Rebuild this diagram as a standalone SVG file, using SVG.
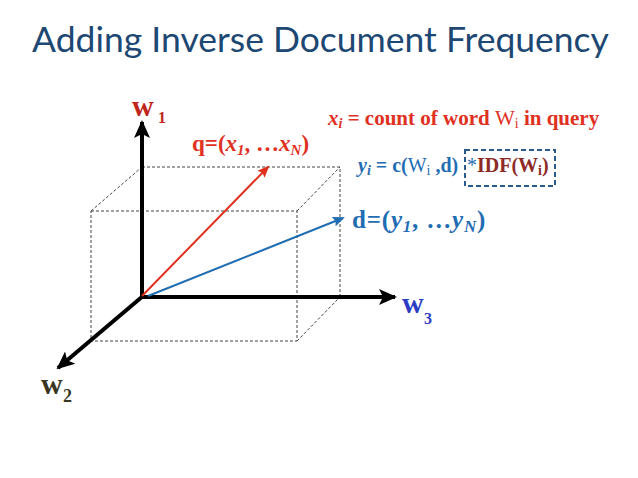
<svg xmlns="http://www.w3.org/2000/svg" width="638" height="478" viewBox="0 0 638 478">
<style>
.title{font-family:Lato,"Open Sans",sans-serif;font-size:35.5px;fill:#1d4873}
.t{font-family:"Liberation Serif","Times New Roman",serif;font-weight:bold}
.n{font-weight:normal}
.i{font-style:italic}
.box{fill:none;stroke:#444;stroke-width:1;stroke-dasharray:3,2}
.axis{stroke:#000;stroke-width:4;fill:none}
</style>
<defs>
<marker id="ak" markerUnits="userSpaceOnUse" markerWidth="20" markerHeight="20" refX="16" refY="8" orient="auto" viewBox="0 0 20 16">
<path d="M0,0 L18,8 L0,16 L4,8 Z" fill="#000"/>
</marker>
<marker id="ar" markerUnits="userSpaceOnUse" markerWidth="12" markerHeight="10" refX="10" refY="5" orient="auto" viewBox="0 0 12 10">
<path d="M0,0 L12,5 L0,10 L2,5 Z" fill="#e0311f"/>
</marker>
<marker id="ab" markerUnits="userSpaceOnUse" markerWidth="12" markerHeight="10" refX="10" refY="5" orient="auto" viewBox="0 0 12 10">
<path d="M0,0 L12,5 L0,10 L2,5 Z" fill="#1f6db3"/>
</marker>
</defs>
<rect width="638" height="478" fill="#fff"/>
<text class="title" x="32" y="52">Adding Inverse Document Frequency</text>
<g id="box">
<rect class="box" x="91" y="211" width="206" height="130"/>
<polyline class="box" points="142,167 340,167 340,297"/>
<line class="box" x1="91" y1="211" x2="142" y2="167"/>
<line class="box" x1="297" y1="211" x2="340" y2="167"/>
<line class="box" x1="297" y1="341" x2="340" y2="297"/>
</g>
<g id="connectors">
<line class="axis" x1="142" y1="298" x2="142" y2="122" marker-end="url(#ak)"/>
<line class="axis" x1="140" y1="297" x2="395" y2="297" marker-end="url(#ak)"/>
<line class="axis" x1="143" y1="296" x2="58" y2="368" marker-end="url(#ak)"/>
<line x1="142" y1="296" x2="268" y2="167" stroke="#e0311f" stroke-width="2" marker-end="url(#ar)"/>
<line x1="148" y1="296" x2="343" y2="218" stroke="#1f6db3" stroke-width="2" marker-end="url(#ab)"/>
</g>
<g id="w1" class="t" fill="#c0261c">
<text x="132" y="116" font-size="30">w</text>
<text x="158" y="123" font-size="16">1</text>
</g>
<g id="w2" class="t" fill="#3a3522">
<text x="41" y="394" font-size="30">w</text>
<text x="63" y="402" font-size="18">2</text>
</g>
<g id="w3" class="t" fill="#2c3dc4">
<text x="402" y="313" font-size="30">w</text>
<text x="424" y="324" font-size="16">3</text>
</g>
<g id="q" class="t" fill="#e0311f" font-size="23">
<text x="192" y="151">q=(<tspan class="i">x</tspan><tspan class="i" font-size="15" dy="4">1</tspan><tspan dy="-4">, …</tspan><tspan class="i">x</tspan><tspan class="i" font-size="15" dy="4">N</tspan><tspan dy="-4">)</tspan></text>
</g>
<g id="d" class="t" fill="#1f6db3" font-size="25" letter-spacing="0.8">
<text x="352" y="228">d=(<tspan class="i">y</tspan><tspan class="i" font-size="17" dy="4">1</tspan><tspan dy="-4">, …</tspan><tspan class="i">y</tspan><tspan class="i" font-size="17" dy="4">N</tspan><tspan dy="-4">)</tspan></text>
</g>
<g id="xdef" class="t" fill="#e0311f" font-size="21">
<text x="328" y="125"><tspan class="i">x</tspan><tspan class="i" font-size="14" dy="3">i</tspan><tspan dy="-3"> = count of word </tspan><tspan class="n">W</tspan><tspan class="n" font-size="14" dy="3">i</tspan><tspan dy="-3"> in query</tspan></text>
</g>
<g id="ydef" class="t" font-size="20">
<text x="358" y="172" fill="#1f6db3"><tspan class="i">y</tspan><tspan class="i" font-size="14" dy="3">i</tspan><tspan dy="-3"> = c(</tspan><tspan class="n">W</tspan><tspan class="n" font-size="14" dy="3">i</tspan><tspan dy="-3"> ,d) </tspan></text>
<rect x="465" y="150" width="90" height="36" fill="none" stroke="#2a5a8c" stroke-width="2" stroke-dasharray="5,3"/>
<text x="467" y="172"><tspan fill="#1f6db3" class="n">*</tspan><tspan fill="#8e2a26">IDF(W</tspan><tspan fill="#8e2a26" font-size="14" dy="3">i</tspan><tspan fill="#8e2a26" dy="-3">)</tspan></text>
</g>
</svg>
